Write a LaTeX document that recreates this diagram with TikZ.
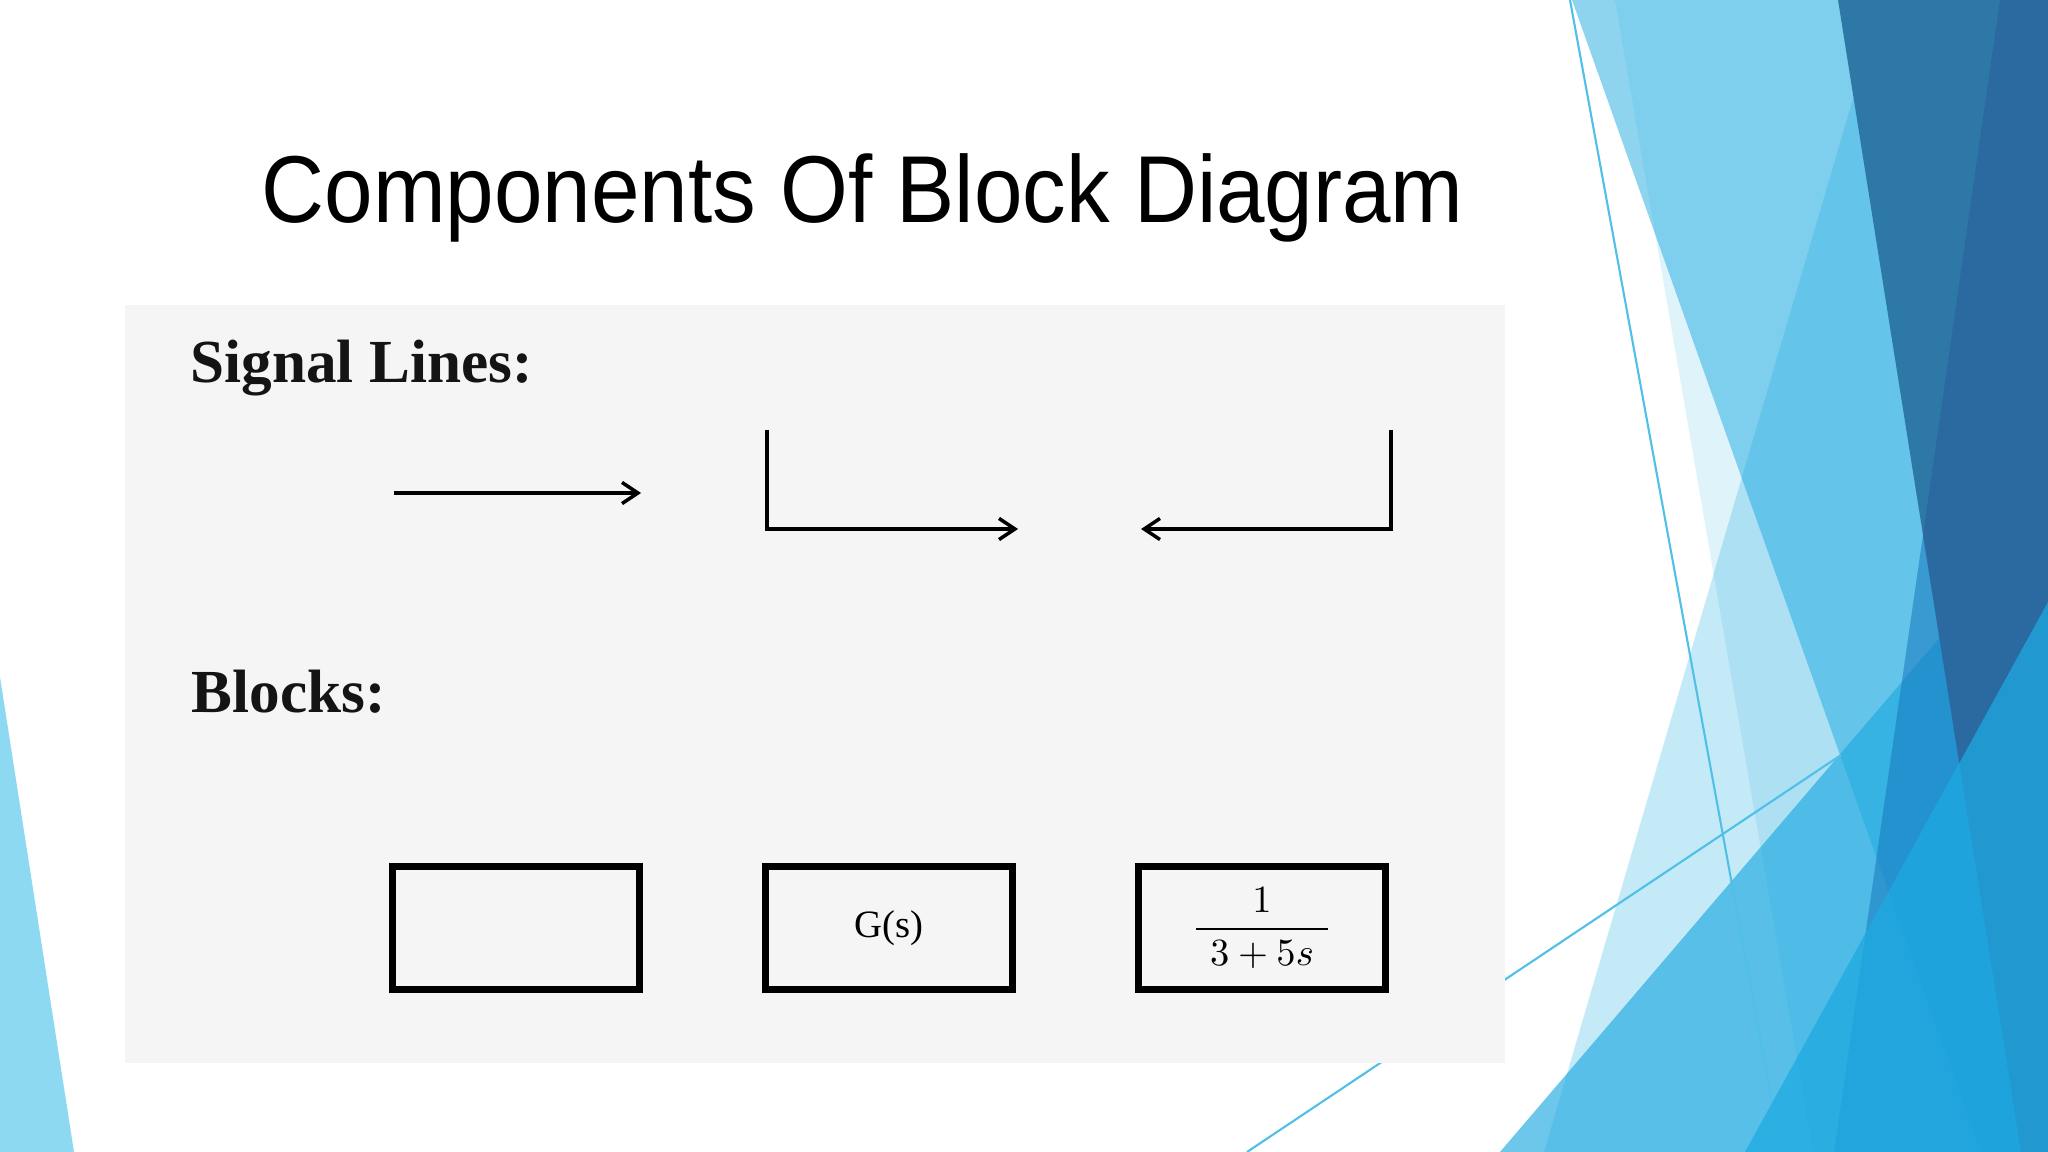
\documentclass[tikz,border=0pt]{standalone}
\usepackage{fontspec}
\setmainfont{Liberation Serif}
\newfontfamily\titlefont{Liberation Sans}
\usetikzlibrary{arrows.meta}

\definecolor{facet}{RGB}{30,170,225}
\definecolor{facetdark}{RGB}{46,120,168}
\definecolor{facetdeep}{RGB}{42,106,160}
\definecolor{facetmid}{RGB}{22,119,190}
\definecolor{facetleft}{RGB}{141,217,242}
\definecolor{facetline}{RGB}{80,192,232}
\definecolor{panelgray}{RGB}{245,245,245}
\definecolor{inkblack}{RGB}{20,20,20}

\begin{document}
\begin{tikzpicture}[x=0.01cm,y=-0.01cm,
        veil/.style={fill=facet,fill opacity=#1},
        thinline/.style={draw=facetline,line width=0.6pt},
        signal/.style={line width=1pt,-{Straight Barb[length=4.5pt,width=6pt]}},
        blockbox/.style={draw,line width=2pt,minimum width=2.47cm,minimum height=1.23cm,inner sep=0pt,
            font=\fontsize{11pt}{13pt}\selectfont},
        heading/.style={anchor=base west,inner sep=0pt,text=inkblack,
            font=\fontsize{17.4pt}{20pt}\selectfont\bfseries}]
    \useasboundingbox (0,0) rectangle (2048,1152);
    \fill[white] (0,0) rectangle (2048,1152);

    % facets of the slide theme
    \fill[facetleft] (0,677) -- (74,1152) -- (0,1152) -- cycle;
    \fill[veil=0.14] (1615,0) -- (2048,0) -- (2048,1152) -- (1813,1152) -- cycle;
    \fill[veil=0.26] (1882,0) -- (2048,0) -- (2048,1152) -- (1544,1152) -- cycle;
    \fill[veil=0.5] (1572,0) -- (2048,0) -- (2048,1152) -- (1981,1152) -- cycle;
    \fill[veil=0.65] (1500,1152) -- (2048,511) -- (2048,1152) -- cycle;
    \fill[facetdark] (1838,0) -- (2048,0) -- (2048,1152) -- (2021,1152) -- cycle;
    \fill[facetdeep] (2000,0) -- (2048,0) -- (2048,1152) -- (2021,1152) -- (1923,535) -- cycle;
    \fill[facetmid,fill opacity=0.55] (1923,535) -- (2021,1152) -- (1834,1152) -- cycle;
    \draw[thinline] (1570,0) -- (1772,1103);
    \draw[thinline] (1247,1152) -- (1841,755);
    \fill[veil=0.75] (2048,602) -- (2048,1152) -- (1745,1152) -- cycle;

    % title and panel
    \node[anchor=base west,inner sep=0pt,font=\titlefont\fontsize{24.8pt}{28pt}\selectfont] at (261,223) (title)
        {\scalebox{1}[1.09]{Components Of Block Diagram}};
    \fill[panelgray] (125,305) rectangle (1505,1063);

    \node[heading] at (190,383) (lines) {Signal Lines:};
    \node[heading] at (191,712) (blocks) {Blocks:};

    % signal lines
    \coordinate (s1) at (394,493);
    \coordinate (s1e) at (641,493);
    \coordinate (s2) at (767,430);
    \coordinate (s2e) at (1018,529);
    \coordinate (s3) at (1391,430);
    \coordinate (s3e) at (1141,529);
    \draw[signal] (s1) -- (s1e);
    \draw[signal] (s2) |- (s2e);
    \draw[signal] (s3) |- (s3e);

    % blocks
    \node[blockbox] at (516,928) (b1) {};
    \node[blockbox] at (889,928) (b2) {G(s)};
    \node[blockbox] at (1262,928) (b3) {$\displaystyle\frac{1}{\hspace{4pt}3+5s\hspace{4pt}}$};
\end{tikzpicture}
\end{document}
